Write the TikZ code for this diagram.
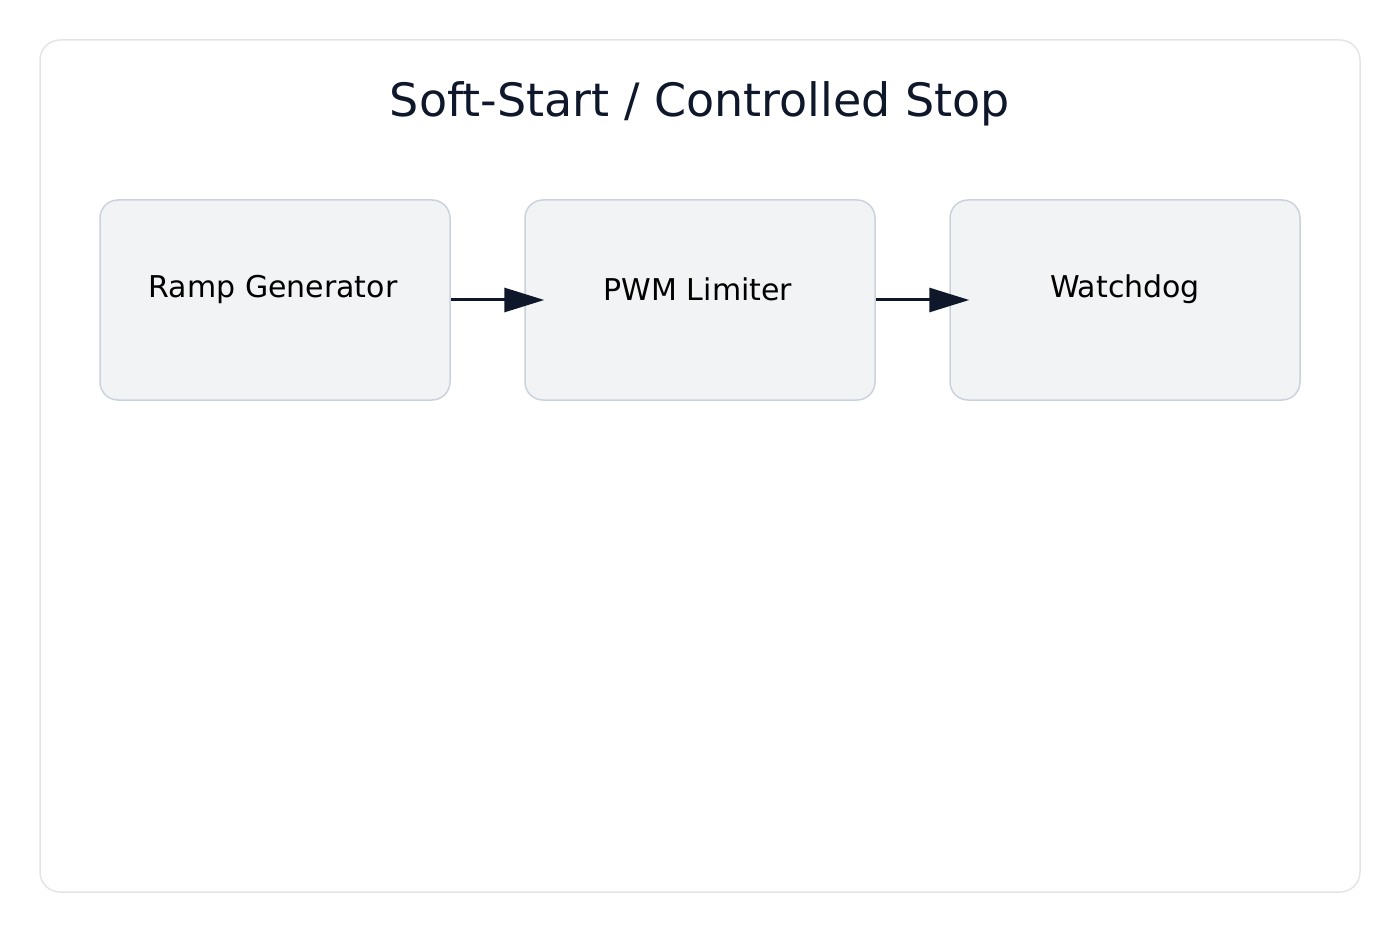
\documentclass[tikz,border=0pt]{standalone}
\usepackage{fontspec}
\setmainfont{DejaVu Sans}
\usetikzlibrary{arrows.meta}
\definecolor{frame}{HTML}{E2E4E8}
\definecolor{boxfill}{HTML}{F2F3F5}
\definecolor{boxline}{HTML}{CBD2DE}
\definecolor{ink}{HTML}{0F172A}
\begin{document}
\begin{tikzpicture}[x=1pt,y=-1pt,
  blk/.style={draw=boxline,line width=1.5pt,fill=boxfill,rounded corners=18pt,minimum width=350pt,minimum height=200pt,inner sep=0},
  lbl/.style={font=\fontsize{30}{36}\selectfont,text=black},
  arr/.style={draw=ink,line width=3pt,-{Triangle[length=40pt,width=24pt]},shorten >=-20pt}]
\useasboundingbox (0,0) rectangle (1400,933);
\draw[frame,line width=1.5pt,rounded corners=20pt] (40,40) rectangle (1360,892);
\node[font=\fontsize{46}{54}\selectfont,text=ink] (title) at (700,104) {Soft-Start / Controlled Stop};
\node[blk] (a) at (275,300) {};
\node[blk] (b) at (700,300) {};
\node[blk] (c) at (1125,300) {};
\node[lbl] (ta) at (273,289) {Ramp Generator};
\node[lbl] (tb) at (698,289) {PWM Limiter};
\node[lbl] (tc) at (1125,289) {Watchdog};
\draw[arr] (a.east) -- (b.west);
\draw[arr] (b.east) -- (c.west);
\end{tikzpicture}
\end{document}
